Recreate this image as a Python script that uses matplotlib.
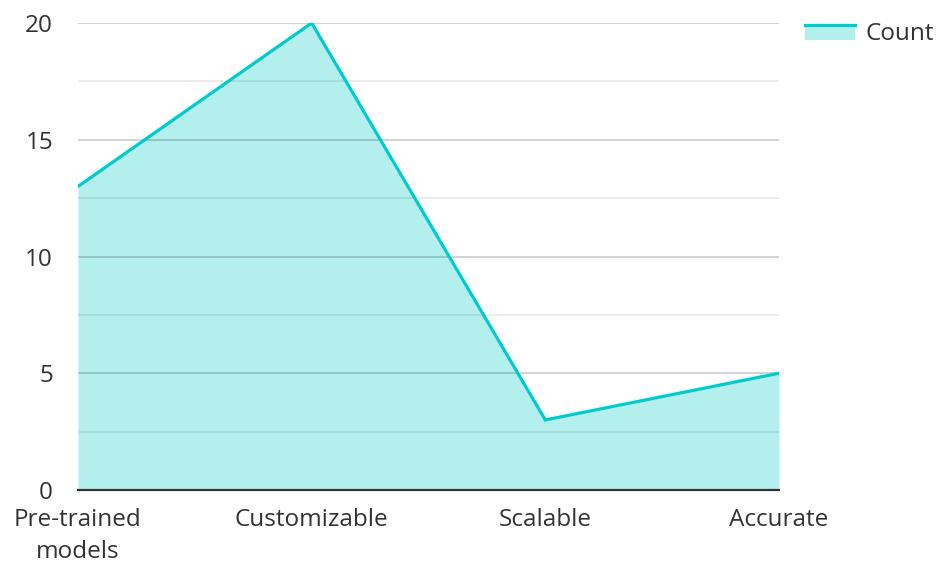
import matplotlib
matplotlib.use("Agg")
import matplotlib.pyplot as plt
from matplotlib.legend_handler import HandlerBase
from matplotlib.patches import Rectangle
from matplotlib.lines import Line2D

plt.rcParams['font.family'] = ['Open Sans', 'DejaVu Sans']

categories = ["Pre-trained\nmodels", "Customizable", "Scalable", "Accurate"]
counts = [13, 20, 3, 5]
series_name = "Count"

LINE = "#00cccc"
FILL = "#b2efed"
TEXT = "#333333"
FS = 17.5

fig = plt.figure(figsize=(9.36, 5.62), dpi=100)
ax = fig.add_axes([78/936, 1-490/562, (779-78)/936, (490-23)/562])

x = list(range(len(categories)))
ax.fill_between(x, counts, 0, color=FILL, linewidth=0, zorder=1)
ax.plot(x, counts, color=LINE, linewidth=2.3, zorder=3, solid_joinstyle='miter')

ax.set_xlim(0, len(categories) - 1)
ax.set_ylim(0, 20)
ax.set_yticks([0, 5, 10, 15, 20])
ax.set_yticks([2.5, 7.5, 12.5, 17.5], minor=True)
ax.set_xticks(x)
ax.set_xticklabels(categories, fontsize=FS, color=TEXT, linespacing=1.42)
ax.tick_params(axis='y', which='major', length=0, pad=18, labelsize=FS, labelcolor=TEXT)
ax.tick_params(axis='y', which='minor', length=0)
ax.tick_params(axis='x', length=0, pad=13)

ax.set_axisbelow(False)
ax.grid(axis='y', which='major', color='black', alpha=0.2, linewidth=1.2, zorder=2)
ax.grid(axis='y', which='minor', color='black', alpha=0.09, linewidth=1.2, zorder=2)
ax.grid(axis='x', visible=False)

for s in ['top', 'right', 'left']:
    ax.spines[s].set_visible(False)
ax.spines['bottom'].set_color(TEXT)
ax.spines['bottom'].set_linewidth(1.6)
ax.spines['bottom'].set_zorder(4)


class AreaHandler(HandlerBase):
    def create_artists(self, legend, orig_handle, xdescent, ydescent,
                       width, height, fontsize, trans):
        rect = Rectangle((-xdescent, -ydescent), width, height * 0.85,
                         facecolor=FILL, edgecolor='none', transform=trans)
        ln = Line2D([-xdescent, -xdescent + width],
                    [-ydescent + height * 0.85, -ydescent + height * 0.85],
                    color=LINE, linewidth=2.3, transform=trans)
        return [rect, ln]


proxy = Rectangle((0, 0), 1, 1)
leg = fig.legend([proxy], [series_name], handler_map={Rectangle: AreaHandler()},
                 loc='upper left', bbox_to_anchor=(805/936, 1-22/562),
                 frameon=False, fontsize=FS, handlelength=2.05, handleheight=0.75,
                 handletextpad=0.45, borderpad=0, borderaxespad=0)
for t in leg.get_texts():
    t.set_color(TEXT)

fig.savefig("out.png", dpi=100)
